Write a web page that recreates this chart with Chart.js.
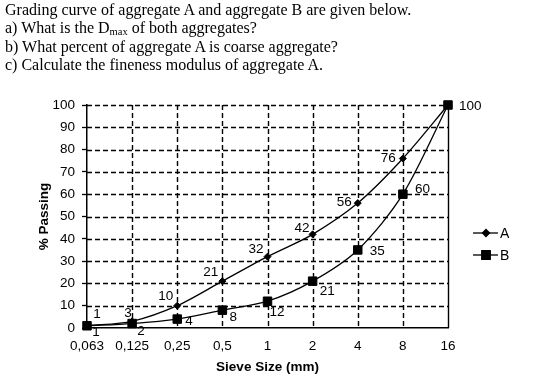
<!DOCTYPE html>
<html><head><meta charset="utf-8">
<script src="https://cdn.jsdelivr.net/npm/chart.js@4"></script>
<style>
html,body{margin:0;padding:0;background:#fff;}
#wrap{position:relative;width:558px;height:380px;}
#q{position:absolute;left:5px;top:1px;font-family:"Liberation Serif","Times New Roman",serif;font-size:16px;line-height:18.3px;color:#000;z-index:2;}
#q sub{font-size:10.5px;vertical-align:-2px;line-height:0;}
canvas{position:absolute;left:0;top:0;}
</style></head>
<body><div id="wrap">
<div id="q">Grading curve of aggregate A and aggregate B are given below.<br>a) What is the D<sub>max</sub> of both aggregates?<br>b) What percent of aggregate A is coarse aggregate?<br>c) Calculate the fineness modulus of aggregate A.</div>
<canvas id="c" width="558" height="380"></canvas>
</div>
<script>
const sieveSizes = ['0,063','0,125','0,25','0,5','1','2','4','8','16'];
const passingA = [1,3,10,21,32,42,56,76,100];
const passingB = [1,2,4,8,12,21,35,60,100];
const yTicks = [0,10,20,30,40,50,60,70,80,90,100];

// label offsets relative to point (style only)
const labelOffA = [[10,-11,'center'],[-4,-8,'center'],[-4,-9,'right'],[-4,-9,'right'],[-4,-7,'right'],[-3,-6,'right'],[-6,-1,'right'],[-7,0,'right'],[11,1,'left']];
const labelOffB = [[9,7,'center'],[9,8,'center'],[8,2,'left'],[7,7,'left'],[2,11,'left'],[7,10,'left'],[12,1,'left'],[12,-5,'left'],null];

const FONT = '"Liberation Sans", Arial, sans-serif';

const gridPlugin = {
  id:'dashgrid',
  beforeDatasetsDraw(chart){
    const {ctx, chartArea:a, scales:{x,y}} = chart;
    ctx.save();
    ctx.strokeStyle='#000';
    ctx.lineWidth=1.4;
    ctx.setLineDash([5,3]);
    yTicks.forEach(v=>{ if(v===0) return;
      const py=Math.round(y.getPixelForValue(v))+0.5;
      ctx.beginPath();ctx.moveTo(a.left,py);ctx.lineTo(a.right,py);ctx.stroke();});
    sieveSizes.forEach((s,i)=>{ if(i===0||i===sieveSizes.length-1) return;
      const px=Math.round(x.getPixelForValue(i))+0.5;
      ctx.beginPath();ctx.moveTo(px,a.top);ctx.lineTo(px,a.bottom);ctx.stroke();});
    ctx.setLineDash([]);
    const pr=Math.round(x.getPixelForValue(sieveSizes.length-1))+0.5;
    ctx.beginPath();ctx.moveTo(pr,a.top);ctx.lineTo(pr,a.bottom);ctx.stroke();
    ctx.restore();
  }
};

const labelPlugin = {
  id:'ptlabels',
  afterDatasetsDraw(chart){
    const ctx=chart.ctx;
    ctx.save();
    ctx.fillStyle='#000';
    ctx.font='13.5px '+FONT;
    ctx.textBaseline='middle';
    [[0,passingA,labelOffA],[1,passingB,labelOffB]].forEach(([di,vals,offs])=>{
      const meta=chart.getDatasetMeta(di);
      meta.data.forEach((pt,i)=>{
        const o=offs[i]; if(!o) return;
        ctx.textAlign=o[2];
        ctx.fillText(String(vals[i]),pt.x+o[0],pt.y+o[1]);
      });
    });
    // legend
    const items=[['A','rectRot',3.5],['B','rect',6]];
    items.forEach((it,k)=>{
      const ly=233+k*22;
      ctx.strokeStyle='#000';ctx.lineWidth=1.3;
      ctx.beginPath();ctx.moveTo(473,ly);ctx.lineTo(498,ly);ctx.stroke();
      Chart.helpers.drawPoint(ctx,{pointStyle:it[1],radius:it[2],rotation:0,borderWidth:1},486,ly);
      ctx.fillStyle='#000';ctx.fill();
      ctx.textAlign='left';ctx.font='14px '+FONT;
      ctx.fillText(it[0],500,ly+1);
    });
    ctx.restore();
  }
};

new Chart(document.getElementById('c'),{
  type:'line',
  data:{labels:sieveSizes,datasets:[
    {label:'A',data:passingA,clip:false,borderColor:'#000',backgroundColor:'#000',borderWidth:1.3,tension:0.3,pointStyle:'rectRot',pointRadius:3.5,pointHoverRadius:3.5,pointBorderWidth:1},
    {label:'B',data:passingB,clip:false,borderColor:'#000',backgroundColor:'#000',borderWidth:1.3,tension:0.3,pointStyle:'rect',pointRadius:6,pointHoverRadius:6,pointBorderWidth:1}
  ]},
  options:{
    responsive:false,animation:false,
    layout:{padding:{left:36,right:110,top:105,bottom:5}},
    plugins:{legend:{display:false},tooltip:{enabled:false}},
    scales:{
      x:{
        offset:false,
        grid:{drawOnChartArea:false,drawTicks:false,color:'#000'},
        border:{color:'#000',width:1.5},
        ticks:{color:'#000',font:{family:FONT,size:13.5},padding:10,maxRotation:0,autoSkip:false},
        title:{display:true,text:'Sieve Size (mm)',color:'#000',font:{family:FONT,size:13.5,weight:'bold'},padding:{top:4,bottom:0}},
        afterFit(s){s.height=47;}
      },
      y:{
        min:0,max:100,
        afterBuildTicks(s){s.ticks=yTicks.map(v=>({value:v}));},
        grid:{drawOnChartArea:false,drawTicks:true,tickLength:5,color:'#000',tickWidth:1.3},
        border:{color:'#000',width:1.5},
        ticks:{color:'#000',font:{family:FONT,size:13.5},padding:7},
        title:{display:true,text:'% Passing',color:'#000',font:{family:FONT,size:13.5,weight:'bold'},padding:{top:0,bottom:4}},
        afterFit(s){s.width=51;}
      }
    }
  },
  plugins:[gridPlugin,labelPlugin]
});
</script></body></html>
